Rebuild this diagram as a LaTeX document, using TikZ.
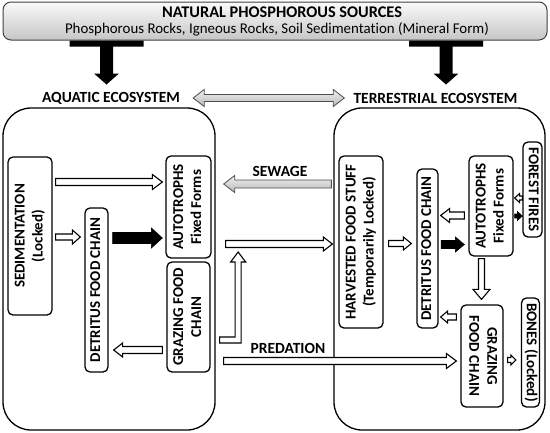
\documentclass[tikz,border=0pt]{standalone}
\usepackage{fontspec}
\setmainfont{Carlito}[Ligatures={NoCommon}]
\usetikzlibrary{calc}
\newcommand\rtext[2]{\rotatebox{#1}{\begin{tabular}{@{}c@{}}#2\end{tabular}}}
\newcommand\blockarrow[6][]{%
  \path #2 coordinate (baS) #3 coordinate (baE);
  \path let \p1=($(baE)-(baS)$) in \pgfextra{\pgfmathsetmacro\balen{veclen(\x1,\y1)}\pgfmathsetmacro\baang{atan2(\y1,\x1)}\global\let\balen\balen\global\let\baang\baang};
  \begin{scope}[shift={(baS)},rotate=\baang,x=1pt,y=1pt]
    \draw[#1] (0,-#4) -- ({\balen-#6},-#4) -- ({\balen-#6},-#5) -- (\balen,0) -- ({\balen-#6},#5) -- ({\balen-#6},#4) -- (0,#4) -- cycle;
  \end{scope}}
\newcommand\dblarrow[6][]{%
  \path #2 coordinate (baS) #3 coordinate (baE);
  \path let \p1=($(baE)-(baS)$) in \pgfextra{\pgfmathsetmacro\balen{veclen(\x1,\y1)}\pgfmathsetmacro\baang{atan2(\y1,\x1)}\global\let\balen\balen\global\let\baang\baang};
  \begin{scope}[shift={(baS)},rotate=\baang,x=1pt,y=1pt]
    \draw[#1] (0,0) -- (#6,#5) -- (#6,#4) -- ({\balen-#6},#4) -- ({\balen-#6},#5) -- (\balen,0) -- ({\balen-#6},-#5) -- ({\balen-#6},-#4) -- (#6,-#4) -- (#6,-#5) -- cycle;
  \end{scope}}
\begin{document}
\begin{tikzpicture}[x=1pt,y=-1pt,
  box/.style={draw, line width=1.3pt, rounded corners=5pt, inner sep=0pt, font=\bfseries\fontsize{15}{18}\selectfont},
  eco/.style={draw, line width=1.3pt, rounded corners=28pt, inner sep=0pt},
  hollow/.style={draw, line width=1.1pt, fill=white, line join=miter},
  blackarr/.style={draw, line width=0.6pt, fill=black, line join=miter},
  greyarr/.style={draw=gray!60!black, line width=0.8pt, top color=gray!12, bottom color=gray!55, line join=miter},
  lab/.style={font=\bfseries\fontsize{15.5}{17}\selectfont, inner sep=1pt}]
\useasboundingbox (0,0) rectangle (550,432);
% source box
\node[draw=gray!50!black, line width=1pt, rounded corners=8pt, minimum width=544pt, minimum height=38pt, top color=gray!4, bottom color=gray!45] (src) at (275,21) {};
\node[lab, font=\bfseries\fontsize{16.3}{17}\selectfont] (srct) at (282,12.5) {NATURAL PHOSPHOROUS SOURCES};
\node[inner sep=0pt, font=\fontsize{14.9}{17}\selectfont] (srcs) at (277,29) {Phosphorous Rocks, Igneous Rocks, Soil Sedimentation (Mineral Form)};
% labels
\node[lab] (aqlab) at (111,98) {AQUATIC ECOSYSTEM};
\node[lab] (terlab) at (435.5,98) {TERRESTRIAL ECOSYSTEM};
% black arrows from source
\begin{scope}[shift={(src.south -| 106.5,0)}]
\fill (-37,0) -- (37,0) -- (37,6) -- (6.5,6) -- (6.5,33) -- (12.5,33) -- (0,44) -- (-12.5,33) -- (-6.5,33) -- (-6.5,6) -- (-37,6) -- cycle;
\end{scope}
\begin{scope}[shift={(src.south -| 446,0)}]
\fill (-37,0) -- (37,0) -- (37,6) -- (6.5,6) -- (6.5,33) -- (12.5,33) -- (0,44) -- (-12.5,33) -- (-6.5,33) -- (-6.5,6) -- (-37,6) -- cycle;
\end{scope}
\dblarrow[greyarr]{($(aqlab.east)+(12,0)$)}{($(terlab.west)+(-8,0)$)}{3.5}{8.5}{11}
% ecosystem boxes
\node[eco, minimum width=212pt, minimum height=322pt] (aqua) at (109,269) {};
\node[eco, minimum width=211pt, minimum height=322pt] (terra) at (439.5,269) {};
% aquatic nodes
\node[box, minimum width=44pt, minimum height=158pt] (sed) at (30,236) {\rtext{90}{SEDIMENTATION\\(Locked)}};
\node[box, minimum width=23pt, minimum height=164pt] (ldet) at (96.5,290) {\rtext{90}{DETRITUS FOOD CHAIN}};
\node[box, minimum width=45pt, minimum height=102pt] (laut) at (188.5,207) {\rtext{90}{AUTOTROPHS\\Fixed Forms}};
\node[box, minimum width=43pt, minimum height=110pt] (lgraz) at (188.5,317) {\rtext{90}{GRAZING FOOD\\CHAIN}};
% terrestrial nodes
\node[box, minimum width=44pt, minimum height=172pt] (harv) at (361,242) {\rtext{90}{HARVESTED FOOD STUFF\\(Temporarily Locked)}};
\node[box, minimum width=21pt, minimum height=159pt] (rdet) at (427.5,248.5) {\rtext{90}{DETRITUS FOOD CHAIN}};
\node[box, minimum width=44pt, minimum height=100pt] (raut) at (491,206) {\rtext{90}{AUTOTROPHS\\Fixed Forms}};
\node[box, minimum width=19pt, minimum height=95pt] (fire) at (532.5,189.5) {\rtext{-90}{FOREST FIRES}};
\node[box, minimum width=42pt, minimum height=102pt] (rgraz) at (482,356) {\rtext{-90}{GRAZING\\FOOD CHAIN}};
\node[box, minimum width=17pt, minimum height=109pt] (bones) at (530.5,352.5) {\rtext{-90}{BONES (Locked)}};
% aquatic arrows
\blockarrow[hollow]{($(sed.east|-0,182)+(3,0)$)}{($(laut.west|-0,182)+(-3,0)$)}{3.5}{7.5}{10}
\blockarrow[hollow]{($(sed.east|-0,237)+(3,0)$)}{($(ldet.west|-0,237)+(-4,0)$)}{3}{7}{8}
\blockarrow[blackarr]{($(ldet.east|-0,238)+(4,0)$)}{($(laut.west|-0,238)+(-3,0)$)}{5.5}{10}{11}
\blockarrow[hollow]{($(lgraz.west|-0,350)+(-4,0)$)}{($(ldet.east|-0,350)+(5,0)$)}{3.5}{7}{9}
% middle arrows
\node[lab] (sew) at (280,171) {SEWAGE};
\blockarrow[greyarr]{($(terra.west|-0,184)+(-2,0)$)}{($(aqua.east|-0,184)+(8,0)$)}{4}{8.5}{11}
\blockarrow[hollow]{($(aqua.east|-0,244)+(10,0)$)}{($(harv.west|-0,244)+(-6,0)$)}{3.5}{7}{9}
\coordinate (Ls) at ($(aqua.east|-0,340)+(4,0)$);
\begin{scope}[shift={(Ls)}]
\draw[hollow] (0,-3) -- (15.5,-3) -- (15.5,-78) -- (11,-78) -- (18.5,-88) -- (26,-78) -- (21.5,-78) -- (21.5,3) -- (0,3) -- cycle;
\end{scope}
\node[lab] (pred) at (288,348) {PREDATION};
\blockarrow[hollow]{($(aqua.east|-0,361)+(8,0)$)}{($(rgraz.west|-0,361)+(-4,0)$)}{3.5}{7.5}{10}
% terrestrial arrows
\blockarrow[hollow]{($(harv.east|-0,243.5)+(5,0)$)}{($(rdet.west|-0,243.5)+(-5,0)$)}{3}{6.5}{8}
\blockarrow[blackarr]{($(rdet.east|-0,244.5)+(2.5,0)$)}{($(raut.west|-0,244.5)+(-4,0)$)}{4}{7.5}{9}
\blockarrow[hollow]{($(raut.west|-0,215.5)+(-4,0)$)}{($(rdet.east|-0,215.5)+(2,0)$)}{3.5}{7}{9}
\blockarrow[hollow]{($(fire.west|-0,198)+(0,0)$)}{($(raut.east|-0,198)+(1,0)$)}{2}{4.5}{5}
\blockarrow[blackarr]{($(raut.east|-0,216)+(1,0)$)}{($(fire.west|-0,216)+(0,0)$)}{2}{4.5}{5}
\blockarrow[hollow]{($(raut.south-|481.5,0)+(0,2)$)}{($(rgraz.north-|481.5,0)+(0,-5)$)}{3}{8.5}{10}
\blockarrow[hollow]{($(rgraz.west|-0,317)+(-4,0)$)}{($(rdet.east|-0,317)+(2,0)$)}{3}{6}{7}
\blockarrow[hollow]{($(rgraz.east|-0,360)+(4,0)$)}{($(bones.west|-0,360)+(-5,0)$)}{2.5}{5}{5}
\end{tikzpicture}
\end{document}
